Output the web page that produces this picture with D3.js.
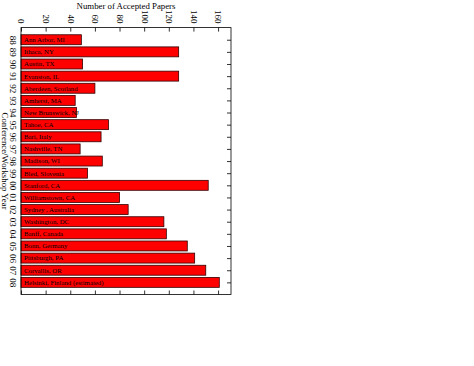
<!DOCTYPE html>
<html>
<head>
<meta charset="utf-8">
<script src="https://cdn.jsdelivr.net/npm/d3@7"></script>
<style>
  body { margin: 0; background: #fff; }
  text { font-family: "Liberation Serif", "Times New Roman", serif; fill: #000; }
</style>
</head>
<body>
<div id="chart"></div>
<script>
// data
var years = ["88", "89", "90", "91", "92", "93", "94", "95", "96", "97", "98",
             "99", "00", "01", "02", "03", "04", "05", "06", "07", "08"];
var places = ["Ann Arbor, MI", "Ithaca, NY", "Austin, TX", "Evanston, IL",
              "Aberdeen, Scotland", "Amherst, MA", "New Brunswick, NJ", "Tahoe, CA",
              "Bari, Italy", "Nashville, TN", "Madison, WI", "Bled, Slovenia",
              "Stanford, CA", "Williamstown, CA", "Sydney , Australia", "Washington, DC",
              "Banff, Canada", "Bonn, Germany", "Pittsburgh, PA", "Corvallis, OR",
              "Helsinki, Finland (estimated)"];
var papers = [49, 128, 50, 128, 60, 44, 45, 71, 65, 48, 66,
              54, 152, 80, 87, 116, 118, 135, 141, 150, 161];
var paperTicks = [0, 20, 40, 60, 80, 100, 120, 140, 160];

var svgWidth = 474, svgHeight = 366;
var plotLeft = 21, plotRight = 231, plotTop = 27.6, plotBottom = 294.5;

var svg = d3.select("#chart").append("svg")
  .attr("width", svgWidth)
  .attr("height", svgHeight);

// x = number of papers, y = year index
var xScale = d3.scaleLinear().domain([0, 170.5]).range([plotLeft, plotRight]);
var yScale = d3.scaleLinear().domain([-1, 21]).range([plotTop, plotBottom]);
var barH = yScale(0.41) - yScale(-0.41);

// bars
svg.selectAll("rect.bar")
  .data(papers)
  .enter()
  .append("rect")
  .attr("class", "bar")
  .attr("x", xScale(0))
  .attr("y", (d, i) => yScale(i) - barH / 2)
  .attr("width", d => xScale(d) - xScale(0))
  .attr("height", barH)
  .attr("fill", "#ff0000")
  .attr("stroke", "#300")
  .attr("stroke-width", 0.8);

// place names inside the bars
svg.selectAll("text.place")
  .data(places)
  .enter()
  .append("text")
  .attr("class", "place")
  .attr("x", xScale(0) + 3)
  .attr("y", (d, i) => yScale(i))
  .attr("dy", "0.35em")
  .attr("font-size", "6.8px")
  .text(d => d);

// frame
svg.append("rect")
  .attr("x", plotLeft).attr("y", plotTop)
  .attr("width", plotRight - plotLeft).attr("height", plotBottom - plotTop)
  .attr("fill", "none")
  .attr("stroke", "#000")
  .attr("stroke-width", 0.8);

// top axis, inward ticks, rotated labels
var topAxis = svg.append("g")
  .attr("transform", `translate(0, ${plotTop})`)
  .call(d3.axisTop(xScale).tickValues(paperTicks).tickSizeInner(-4).tickSizeOuter(0).tickPadding(0));
topAxis.select(".domain").remove();
topAxis.selectAll(".tick line").attr("stroke-width", 0.8);
topAxis.selectAll(".tick text")
  .attr("transform", "rotate(90)")
  .attr("x", -4)
  .attr("y", 0)
  .attr("dy", "0.35em")
  .attr("text-anchor", "end")
  .attr("font-family", "Liberation Serif, serif")
  .attr("font-size", "9px");

// bottom mirror ticks
var botAxis = svg.append("g")
  .attr("transform", `translate(0, ${plotBottom})`)
  .call(d3.axisBottom(xScale).tickValues(paperTicks).tickSizeInner(-4).tickSizeOuter(0).tickFormat(""));
botAxis.select(".domain").remove();
botAxis.selectAll(".tick line").attr("stroke-width", 0.8);

// year ticks on right (mirror) and left
var idx = d3.range(years.length);
var rightAxis = svg.append("g")
  .attr("transform", `translate(${plotRight}, 0)`)
  .call(d3.axisRight(yScale).tickValues(idx).tickSizeInner(-4).tickSizeOuter(0).tickFormat(""));
rightAxis.select(".domain").remove();
rightAxis.selectAll(".tick line").attr("stroke-width", 0.8);

var leftAxis = svg.append("g")
  .attr("transform", `translate(${plotLeft}, 0)`)
  .call(d3.axisLeft(yScale).tickValues(idx).tickSizeInner(0).tickSizeOuter(0).tickPadding(0)
        .tickFormat(i => years[i]));
leftAxis.select(".domain").remove();
leftAxis.selectAll(".tick text")
  .attr("transform", "rotate(90)")
  .attr("x", 0)
  .attr("y", 11)
  .attr("dy", 0)
  .attr("text-anchor", "middle")
  .attr("font-family", "Liberation Serif, serif")
  .attr("font-size", "9px");

// axis titles
svg.append("text")
  .attr("x", (plotLeft + plotRight) / 2)
  .attr("y", 9)
  .attr("text-anchor", "middle")
  .attr("font-size", "8.8px")
  .text("Number of Accepted Papers");

svg.append("text")
  .attr("transform", `translate(2, ${(plotTop + plotBottom) / 2}) rotate(90)`)
  .attr("text-anchor", "middle")
  .attr("font-size", "8.8px")
  .text("Conference/Workshop Year");
</script>
</body>
</html>
